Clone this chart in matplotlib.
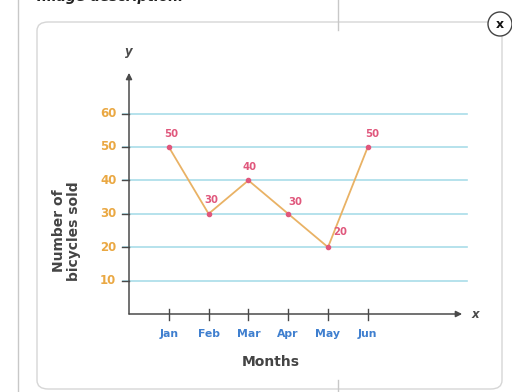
import matplotlib.pyplot as plt
from matplotlib.patches import FancyBboxPatch, Circle
from matplotlib.lines import Line2D

months = ['Jan', 'Feb', 'Mar', 'Apr', 'May', 'Jun']
bikes_sold = [50, 30, 40, 30, 20, 50]
y_ticks = [10, 20, 30, 40, 50, 60]
# label offsets (points) for each value label
label_offsets = [(2, 6), (2, 6), (1, 6), (5, 5), (9, 7), (3, 6)]

W, H = 512, 392
fig = plt.figure(figsize=(W / 100, H / 100), dpi=100)
fig.patch.set_facecolor('white')

grid_c = '#a9dde9'
axis_c = '#4a4a4a'
orange = '#eaa843'
pink = '#e0577c'
blue = '#3f7fcf'
line_c = '#e9b265'

# ---- page decorations (figure pixel coords) ----
def px(x, y):
    return x / W, 1 - y / H

fig.add_artist(Line2D([18 / W] * 2, [0, 1], color='#c8c8c8', lw=1, zorder=-2))
box = FancyBboxPatch(px(37, 389), (502 - 37) / W, (389 - 22) / H,
                     boxstyle='round,pad=0,rounding_size=0.022',
                     transform=fig.transFigure, fc='white', ec='#d6d6d6',
                     lw=1, zorder=-2)
fig.add_artist(box)
fig.add_artist(Line2D([338 / W] * 2, [1, 1 - 30 / H], color='#c8c8c8', lw=1, zorder=-1))
fig.add_artist(Line2D([338 / W] * 2, [1 - 380 / H, 0], color='#c8c8c8', lw=1, zorder=-1))
fig.add_artist(Circle((5.00, (H - 24) / 100), 0.12, transform=fig.dpi_scale_trans,
                      fc='white', ec='#444444', lw=1, zorder=2))
fig.text(*px(500, 24), 'x', ha='center', va='center', fontsize=9,
         fontweight='bold', color='#111111', zorder=3)
fig.text(*px(37, 1), 'Image description:', ha='left', va='baseline',
         fontsize=10, fontweight='bold', style='italic', color='#222222')

# ---- chart axes: data 0 at pixel (129, 314), 1 month = 39.8 px, 10 units = 33.4 px ----
xmax, ymax = 8.6, 75
ax = fig.add_axes([129 / W, (H - 314) / H, xmax * 39.8 / W, ymax * 3.34 / H])
ax.set_xlim(0, xmax)
ax.set_ylim(0, ymax)
ax.axis('off')

xs = list(range(1, len(months) + 1))

# gridlines and y ticks
for v in y_ticks:
    ax.plot([-0.15, 8.5], [v, v], color=grid_c, lw=1.2, clip_on=False, zorder=1)
    ax.plot([-0.18, 0], [v, v], color=axis_c, lw=1, clip_on=False, zorder=2)
    ax.text(-0.52, v, str(v), ha='center', va='center', fontsize=8.5,
            fontweight='bold', color=orange)

# axes with arrows
ax.annotate('', xy=(8.37, 0), xytext=(0, 0),
            arrowprops=dict(arrowstyle='-|>', color=axis_c, lw=1.1,
                            mutation_scale=9, shrinkA=0, shrinkB=0),
            annotation_clip=False)
ax.annotate('', xy=(0, 72.2), xytext=(0, 0),
            arrowprops=dict(arrowstyle='-|>', color=axis_c, lw=1.1,
                            mutation_scale=9, shrinkA=0, shrinkB=0),
            annotation_clip=False)
ax.text(8.7, 0, 'x', ha='center', va='center', fontsize=8.5,
        style='italic', fontweight='bold', color=axis_c)
ax.text(0, 78.5, 'y', ha='center', va='center', fontsize=8.5,
        style='italic', fontweight='bold', color=axis_c, clip_on=False)

# x ticks and labels
for x, m in zip(xs, months):
    ax.plot([x, x], [-1.8, 1.5], color=axis_c, lw=1, clip_on=False)
    ax.text(x, -6, m, ha='center', va='center', fontsize=7.8,
            fontweight='bold', color=blue)

# data line
ax.plot(xs, bikes_sold, color=line_c, lw=1.3, zorder=3, clip_on=False)
ax.scatter(xs, bikes_sold, s=9, color=pink, zorder=4, clip_on=False)
for x, v, off in zip(xs, bikes_sold, label_offsets):
    ax.annotate(str(v), (x, v), xytext=off, textcoords='offset points',
                ha='center', va='bottom', fontsize=7.3, fontweight='bold',
                color=pink)

ax.text(3.55, -14.5, 'Months', ha='center', va='center', fontsize=10,
        fontweight='bold', color='#444444')
ax.text(-1.56, 24.9, 'Number of\nbicycles sold', ha='center', va='center',
        rotation=90, fontsize=10, fontweight='bold', color='#444444',
        linespacing=1.1)

fig.savefig('out.png', dpi=100)
